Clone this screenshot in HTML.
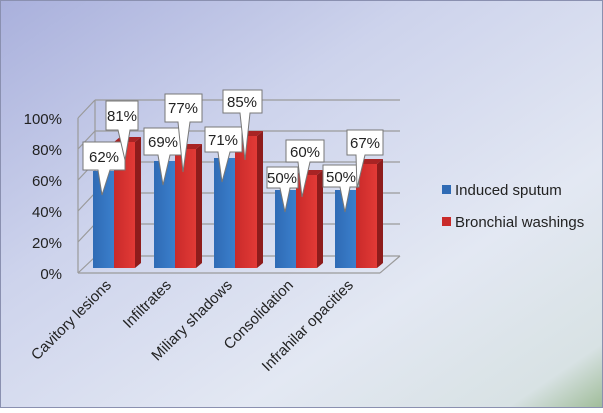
<!DOCTYPE html>
<html><head><meta charset="utf-8"><style>
html,body{margin:0;padding:0;}
body{width:603px;height:408px;overflow:hidden;font-family:"Liberation Sans",sans-serif;}
</style></head><body>
<svg width="603" height="408" xmlns="http://www.w3.org/2000/svg" font-family="Liberation Sans, sans-serif">
<defs>
<linearGradient id="bg" x1="0" y1="0" x2="1" y2="1">
<stop offset="0" stop-color="#a9b0dc"/>
<stop offset="0.35" stop-color="#cdd3ec"/>
<stop offset="0.7" stop-color="#e3e8f3"/>
<stop offset="0.92" stop-color="#d8e2e4"/>
<stop offset="1" stop-color="#9fbc98"/>
</linearGradient>
<linearGradient id="bl" x1="0" x2="1"><stop offset="0" stop-color="#2f6bb5"/><stop offset="1" stop-color="#3b7fcc"/></linearGradient>
<linearGradient id="rd" x1="0" x2="1"><stop offset="0" stop-color="#c92a2a"/><stop offset="1" stop-color="#e23a36"/></linearGradient>
</defs>
<rect width="603" height="408" fill="url(#bg)"/>
<rect x="0.5" y="0.5" width="602" height="407" fill="none" stroke="#8a90b0" stroke-width="1"/>
<g stroke="#9a9a9a" stroke-width="1.2" fill="none">
<line x1="78" y1="118" x2="78" y2="273"/>
<line x1="78" y1="273" x2="380" y2="273"/>
<line x1="380" y1="273" x2="400" y2="256"/>
<line x1="78" y1="273" x2="95" y2="257"/>
<line x1="95" y1="100" x2="95" y2="257"/>
<line x1="95" y1="100" x2="400" y2="100"/>
<line x1="95" y1="131" x2="400" y2="131"/>
<line x1="95" y1="162" x2="400" y2="162"/>
<line x1="95" y1="193" x2="400" y2="193"/>
<line x1="95" y1="224" x2="400" y2="224"/>
<line x1="95" y1="256" x2="400" y2="256"/>
<line x1="78" y1="118" x2="95" y2="100"/>
<line x1="78" y1="149" x2="95" y2="131"/>
<line x1="78" y1="180" x2="95" y2="162"/>
<line x1="78" y1="211" x2="95" y2="193"/>
<line x1="78" y1="242" x2="95" y2="224"/>
</g>
<g font-size="15" fill="#222" text-anchor="end">
<text x="62" y="124">100%</text><text x="62" y="155">80%</text><text x="62" y="186">60%</text>
<text x="62" y="217">40%</text><text x="62" y="248">20%</text><text x="62" y="279">0%</text>
</g>
<g id="bars">
<rect x="93" y="171" width="21" height="97" fill="url(#bl)"/>
<rect x="114" y="142" width="21" height="126" fill="url(#rd)"/>
<polygon points="135,142 141,137 141,263 135,268" fill="#8e1c1c"/>
<polygon points="114,142 120,137 141,137 135,142" fill="#a82424"/>
<rect x="154" y="161" width="21" height="107" fill="url(#bl)"/>
<rect x="175" y="149" width="21" height="119" fill="url(#rd)"/>
<polygon points="196,149 202,144 202,263 196,268" fill="#8e1c1c"/>
<polygon points="175,149 181,144 202,144 196,149" fill="#a82424"/>
<rect x="214" y="158" width="21" height="110" fill="url(#bl)"/>
<rect x="235" y="136" width="22" height="132" fill="url(#rd)"/>
<polygon points="257,136 263,131 263,263 257,268" fill="#8e1c1c"/>
<polygon points="235,136 241,131 263,131 257,136" fill="#a82424"/>
<rect x="275" y="190" width="21" height="78" fill="url(#bl)"/>
<rect x="296" y="175" width="21" height="93" fill="url(#rd)"/>
<polygon points="317,175 323,170 323,263 317,268" fill="#8e1c1c"/>
<polygon points="296,175 302,170 323,170 317,175" fill="#a82424"/>
<rect x="335" y="190" width="21" height="78" fill="url(#bl)"/>
<rect x="356" y="164" width="21" height="104" fill="url(#rd)"/>
<polygon points="377,164 383,159 383,263 377,268" fill="#8e1c1c"/>
<polygon points="356,164 362,159 383,159 377,164" fill="#a82424"/>
</g>
<g fill="#fff" stroke="#777" stroke-width="1" font-size="15" text-anchor="middle">
<path d="M83,142 H125 V170 H110 L102,195 L98,170 H83 Z"/><text x="104" y="162" fill="#222" stroke="none">62%</text>
<path d="M106,101 H138 V130 H130 L125,160 L118,130 H106 Z"/><text x="122" y="121" fill="#222" stroke="none">81%</text>
<path d="M144,128 H182 V155 H170 L163,185 L158,155 H144 Z"/><text x="163" y="147" fill="#222" stroke="none">69%</text>
<path d="M165,94 H202 V122 H190 L183,172 L178,122 H165 Z"/><text x="183" y="113" fill="#222" stroke="none">77%</text>
<path d="M205,127 H242 V152 H230 L222,182 L218,152 H205 Z"/><text x="223" y="145" fill="#222" stroke="none">71%</text>
<path d="M223,90 H262 V113 H250 L245,160 L240,113 H223 Z"/><text x="242" y="107" fill="#222" stroke="none">85%</text>
<path d="M267,167 H298 V188 H290 L285,212 L280,188 H267 Z"/><text x="282" y="183" fill="#222" stroke="none">50%</text>
<path d="M286,140 H324 V162 H310 L302,197 L298,162 H286 Z"/><text x="305" y="157" fill="#222" stroke="none">60%</text>
<path d="M323,165 H359 V187 H350 L345,212 L340,187 H323 Z"/><text x="341" y="182" fill="#222" stroke="none">50%</text>
<path d="M347,130 H383 V155 H365 L357,188 L356,155 H347 Z"/><text x="365" y="148" fill="#222" stroke="none">67%</text>
</g>
<g font-size="15" fill="#222" text-anchor="end">
<text transform="translate(112,286) rotate(-45)">Cavitory lesions</text>
<text transform="translate(172,286) rotate(-45)">Infiltrates</text>
<text transform="translate(233,286) rotate(-45)">Miliary shadows</text>
<text transform="translate(294,286) rotate(-45)">Consolidation</text>
<text transform="translate(354,286) rotate(-45)">Infrahilar opacities</text>
</g>
<rect x="442" y="185" width="9" height="9" fill="#2f6bb5"/>
<text x="455" y="195" font-size="15" fill="#222">Induced sputum</text>
<rect x="442" y="217" width="9" height="9" fill="#c92a2a"/>
<text x="455" y="227" font-size="15" fill="#222">Bronchial washings</text>
</svg>
</body></html>
